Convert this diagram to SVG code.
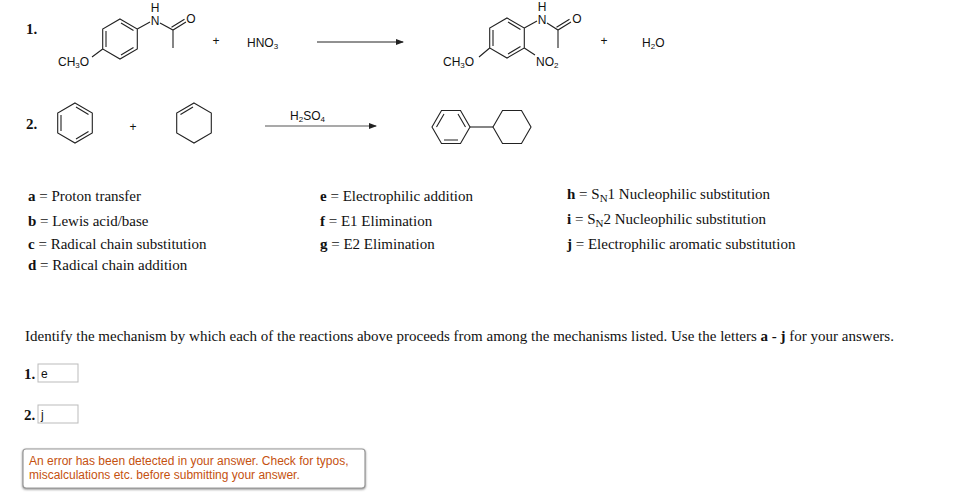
<svg xmlns="http://www.w3.org/2000/svg" width="975" height="495" viewBox="0 0 975 495">
<style>
.b{stroke:#222;stroke-width:1.1;fill:none}
.s{font-family:"Liberation Sans",Arial,sans-serif;font-size:12px;fill:#111}
.t{font-family:"Liberation Serif","Times New Roman",serif;font-size:15px;fill:#111}
.bold{font-weight:bold}
.in{fill:#fff;stroke:#bbb;stroke-width:1}
</style>
<defs>
<marker id="ah" markerWidth="8" markerHeight="6" refX="7" refY="3" orient="auto" markerUnits="userSpaceOnUse">
<path d="M0,0 L8,3 L0,6 Z" fill="#222"/>
</marker>
<filter id="sh" x="-5%" y="-20%" width="110%" height="150%"><feDropShadow dx="0" dy="1" stdDeviation="1.2" flood-color="#888"/></filter>
</defs>
<rect width="975" height="495" fill="#fff"/>

<g id="r1-label"><text x="26" y="34" class="t bold">1.</text></g>
<g id="reactant1">
<polygon class="b" points="120,19 137.3,29 137.3,49 120,59 102.7,49 102.7,29"/>
<path class="b" d="M106,31 V47 M121,23 L133.5,30.5 M133.5,47.5 L121,55"/>
<path class="b" d="M137.3,29 L150,22 M160,23 L173,30 L186,22 M171.5,27.3 L184.5,19.3 M173,30 V48 M92,57 L102.7,49"/>
<text x="155" y="25" class="s" text-anchor="middle">N</text>
<text x="155" y="12" class="s" text-anchor="middle">H</text>
<text x="191" y="23" class="s" text-anchor="middle">O</text>
<text x="58" y="66" class="s">CH<tspan font-size="8" dy="2">3</tspan><tspan dy="-2">O</tspan></text>
</g>
<g id="plus1"><text x="216" y="45" class="s" text-anchor="middle">+</text></g>
<g id="hno3"><text x="247" y="47" class="s">HNO<tspan font-size="8" dy="2">3</tspan></text></g>
<g id="product1">
<polygon class="b" points="507,18 524.3,28 524.3,48 507,58 489.7,48 489.7,28"/>
<path class="b" d="M493,30 V46 M508,22 L520.5,29.5 M520.5,46.5 L508,54"/>
<path class="b" d="M524.3,28 L537,21 M547,23 L558,30 L571,22 M556.5,27.3 L569.5,19.3 M558,30 V48 M524.3,48 L535,55 M479,57 L489.7,48"/>
<text x="542" y="24" class="s" text-anchor="middle">N</text>
<text x="542" y="11" class="s" text-anchor="middle">H</text>
<text x="577" y="23" class="s" text-anchor="middle">O</text>
<text x="536" y="66" class="s">NO<tspan font-size="8" dy="2">2</tspan></text>
<text x="443" y="66" class="s">CH<tspan font-size="8" dy="2">3</tspan><tspan dy="-2">O</tspan></text>
</g>
<g id="plus2"><text x="604" y="45" class="s" text-anchor="middle">+</text></g>
<g id="h2o"><text x="642" y="47" class="s">H<tspan font-size="8" dy="2">2</tspan><tspan dy="-2">O</tspan></text></g>

<g id="r2-label"><text x="26" y="129" class="t bold">2.</text></g>
<g id="benzene">
<polygon class="b" points="75,103 92.3,113 92.3,133 75,143 57.7,133 57.7,113"/>
<path class="b" d="M61,115 V131 M76,107 L88.5,114.5 M88.5,131.5 L76,139"/>
</g>
<g id="plus3"><text x="133" y="131" class="s" text-anchor="middle">+</text></g>
<g id="cyclohexene">
<polygon class="b" points="194,103 211.3,113 211.3,133 194,143 176.7,133 176.7,113"/>
<path class="b" d="M180.5,114.5 L193,107"/>
</g>
<g id="h2so4"><text x="290" y="120" class="s">H<tspan font-size="8" dy="2">2</tspan><tspan dy="-2">SO</tspan><tspan font-size="8" dy="2">4</tspan></text></g>
<g id="product2">
<polygon class="b" points="432,127 441.5,110.5 460.5,110.5 470,127 460.5,143.5 441.5,143.5"/>
<path class="b" d="M436.5,127 L444,114 M444,140 L458,140 M458,114 L465.5,127"/>
<path class="b" d="M470,127 H493"/>
<polygon class="b" points="493,127 502.5,110.5 521.5,110.5 531,127 521.5,143.5 502.5,143.5"/>
</g>

<g id="connectors">
<line x1="317" y1="42" x2="403" y2="42" stroke="#222" stroke-width="1" marker-end="url(#ah)"/>
<line x1="265" y1="126" x2="376" y2="126" stroke="#555" stroke-width="1.2" marker-end="url(#ah)"/>
</g>

<g id="legend">
<text x="28" y="201" class="t"><tspan class="bold">a</tspan> = Proton transfer</text>
<text x="28" y="226" class="t"><tspan class="bold">b</tspan> = Lewis acid/base</text>
<text x="28" y="249" class="t"><tspan class="bold">c</tspan> = Radical chain substitution</text>
<text x="28" y="270" class="t"><tspan class="bold">d</tspan> = Radical chain addition</text>
<text x="320" y="201" class="t"><tspan class="bold">e</tspan> = Electrophilic addition</text>
<text x="320" y="226" class="t"><tspan class="bold">f</tspan> = E1 Elimination</text>
<text x="320" y="249" class="t"><tspan class="bold">g</tspan> = E2 Elimination</text>
<text x="567" y="199" class="t"><tspan class="bold">h</tspan> = S<tspan font-size="11" dy="3">N</tspan><tspan dy="-3">1 Nucleophilic substitution</tspan></text>
<text x="567" y="224" class="t"><tspan class="bold">i</tspan> = S<tspan font-size="11" dy="3">N</tspan><tspan dy="-3">2 Nucleophilic substitution</tspan></text>
<text x="567" y="249" class="t"><tspan class="bold">j</tspan> = Electrophilic aromatic substitution</text>
</g>

<g id="question">
<text x="25" y="341" class="t">Identify the mechanism by which each of the reactions above proceeds from among the mechanisms listed. Use the letters <tspan class="bold">a - j</tspan> for your answers.</text>
</g>
<g id="answer1">
<text x="24" y="379" class="t bold">1.</text>
<rect x="38" y="364" width="40" height="18" class="in"/>
<text x="41" y="378" class="s">e</text>
</g>
<g id="answer2">
<text x="24" y="420" class="t bold">2.</text>
<rect x="38" y="405" width="40" height="18" class="in"/>
<text x="41" y="419" class="s">j</text>
</g>
<g id="error">
<rect x="23" y="449" width="342" height="39" rx="3" fill="#fff" stroke="#999" stroke-width="1.2" filter="url(#sh)"/>
<text x="29" y="465" class="s" style="fill:#c5510f;font-size:12px">An error has been detected in your answer. Check for typos,</text>
<text x="29" y="479" class="s" style="fill:#c5510f;font-size:12px">miscalculations etc. before submitting your answer.</text>
</g>
</svg>
